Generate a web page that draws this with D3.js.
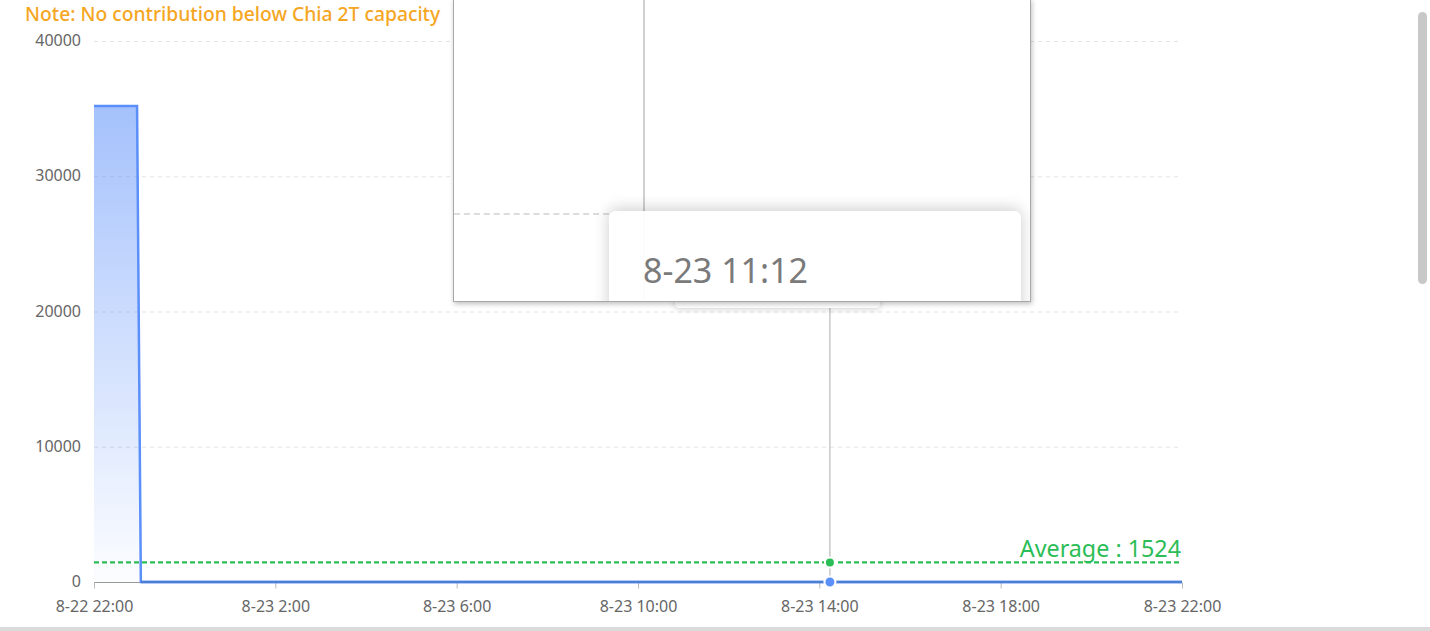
<!DOCTYPE html>
<html>
<head>
<meta charset="utf-8">
<script src="https://cdn.jsdelivr.net/npm/d3@7"></script>
<style>
  html, body { margin: 0; padding: 0; background: #fff; overflow: hidden; }
  body { width: 1430px; height: 631px; position: relative; font-family: "Noto Sans", sans-serif; }
  #chart { position: absolute; left: 0; top: 0; }
  .under-card { position: absolute; left: 675px; top: 200px; width: 205px; height: 108px; background: #fff;
                border-radius: 4px; box-shadow: 0 1px 6px rgba(0,0,0,0.18); }
  .overlay { position: absolute; left: 453px; top: -1px; width: 576px; height: 301px; background: #fff;
             border: 1px solid #a8a8a8; box-shadow: 1px 2px 5px rgba(0,0,0,0.25); overflow: hidden; }
  .overlay .vline { position: absolute; left: 189px; top: 0; width: 2px; height: 300px; background: #d0d0d0; }
  .overlay .hdash { position: absolute; left: 0; top: 213px; width: 165px; border-top: 2px dashed #dcdcdc; }
  .overlay .card { position: absolute; left: 155px; top: 211px; width: 412px; height: 120px; background: rgba(255,255,255,0.92);
                   border-radius: 7px; box-shadow: 0 -2px 16px rgba(0,0,0,0.2); }
  .overlay .card span { position: absolute; left: 34px; top: 36px; font-size: 34px; color: #7a7a7a; white-space: nowrap; }
  .vscroll { position: absolute; left: 1418px; top: 12px; width: 9px; height: 272px; background: #c8c8c8; border-radius: 5px; }
  .hscroll { position: absolute; left: 0; top: 627px; width: 1430px; height: 4px; background: #dadada; }
</style>
</head>
<body>
<svg id="chart" width="1430" height="631"></svg>
<div class="under-card"></div>
<div class="overlay">
  <div class="vline"></div>
  <div class="hdash"></div>
  <div class="card"><span id="tip-text"></span></div>
</div>
<div class="vscroll"></div>
<div class="hscroll"></div>
<script>
// series
const times = ["8-22 22:00", "8-22 22:57", "8-22 23:02", "8-23 14:14", "8-23 22:00"];
const values = [35200, 35200, 0, 0, 0];
const yTicks = [0, 10000, 20000, 30000, 40000];
const xTickLabels = ["8-22 22:00", "8-23 2:00", "8-23 6:00", "8-23 10:00", "8-23 14:00", "8-23 18:00", "8-23 22:00"];
const average = 1524;
const hoverTime = "8-23 14:14";
const tooltipLabel = "8-23 11:12";
const noteText = "Note: No contribution below Chia 2T capacity";

const parse = d3.timeParse("%Y-%m-%d %H:%M");
const toDate = s => {
    const [md, hm] = s.split(" ");
    const [m, d] = md.split("-");
    return parse(`2021-${m.padStart(2, "0")}-${d.padStart(2, "0")} ${hm}`);
};

const data = times.map((t, i) => ({ date: toDate(t), value: values[i] }));
const xTickDates = xTickLabels.map(toDate);

const svg = d3.select("#chart");

const x = d3.scaleTime()
    .domain([xTickDates[0], xTickDates[xTickDates.length - 1]])
    .range([94, 1182]);

const y = d3.scaleLinear()
    .domain([0, 40000])
    .range([582, 41]);

// note at the top
svg.append("text")
    .attr("x", 25)
    .attr("y", 21)
    .attr("font-size", "19.3px")
    .attr("font-weight", 500)
    .attr("fill", "#f5a623")
    .text(noteText);

// gradient for area
const defs = svg.append("defs");
const grad = defs.append("linearGradient")
    .attr("id", "areaGrad")
    .attr("gradientUnits", "userSpaceOnUse")
    .attr("x1", 0).attr("x2", 0)
    .attr("y1", y(values[0])).attr("y2", y(0));
grad.append("stop").attr("offset", "0%").attr("stop-color", "#5b8ff9").attr("stop-opacity", 0.55);
grad.append("stop").attr("offset", "100%").attr("stop-color", "#5b8ff9").attr("stop-opacity", 0.02);

// grid lines
svg.append("g")
    .selectAll("line")
    .data(yTicks.filter(d => d > 0))
    .enter()
    .append("line")
    .attr("x1", x.range()[0])
    .attr("x2", x.range()[1] - 2)
    .attr("y1", d => y(d) + 0.5)
    .attr("y2", d => y(d) + 0.5)
    .attr("stroke", "#e3e3e3")
    .attr("stroke-dasharray", "4,4");

// y axis labels
svg.append("g")
    .selectAll("text")
    .data(yTicks)
    .enter()
    .append("text")
    .attr("x", 81)
    .attr("y", d => y(d) + 5)
    .attr("text-anchor", "end")
    .attr("font-size", "16px")
    .attr("fill", "#666")
    .text(d => d);

// x axis
const xAxis = svg.append("g")
    .attr("transform", `translate(0, ${y(0) + 0.5})`)
    .call(d3.axisBottom(x)
        .tickValues(xTickDates)
        .tickSize(6)
        .tickFormat((d, i) => xTickLabels[i]));
xAxis.select(".domain").attr("stroke", "#999").attr("d", `M${x.range()[0]},0H${x.range()[1]}`);
xAxis.selectAll(".tick line").attr("stroke", "#bbb");
xAxis.selectAll(".tick text")
    .attr("fill", "#666")
    .attr("font-size", "16px")
    .attr("font-family", "Noto Sans")
    .attr("dy", "1.25em");

// area + line
const area = d3.area()
    .x(d => x(d.date))
    .y0(y(0))
    .y1(d => y(d.value));

const line = d3.line()
    .x(d => x(d.date))
    .y(d => y(d.value));

svg.append("path")
    .datum(data)
    .attr("d", area)
    .attr("fill", "url(#areaGrad)");

// crosshair
const hx = x(toDate(hoverTime));
svg.append("line")
    .attr("x1", hx).attr("x2", hx)
    .attr("y1", 300).attr("y2", y(0))
    .attr("stroke", "#c8c8c8")
    .attr("stroke-width", 1.5);

svg.append("path")
    .datum(data)
    .attr("d", line)
    .attr("fill", "none")
    .attr("stroke", "#5b8ff9")
    .attr("stroke-width", 2.5);

// bottom segment looks darker where it sits on the axis
svg.append("line")
    .attr("x1", x(data[2].date))
    .attr("x2", x.range()[1])
    .attr("y1", y(0))
    .attr("y2", y(0))
    .attr("stroke", "#4b7fd6")
    .attr("stroke-width", 2.5);

// average line
svg.append("line")
    .attr("x1", x.range()[0])
    .attr("x2", x.range()[1])
    .attr("y1", y(average) + 1)
    .attr("y2", y(average) + 1)
    .attr("stroke", "#2bbd57")
    .attr("stroke-width", 2.4)
    .attr("stroke-dasharray", "5,3");

svg.append("text")
    .attr("x", x.range()[1] - 1)
    .attr("y", y(average) - 4)
    .attr("text-anchor", "end")
    .attr("font-size", "23.3px")
    .attr("fill", "#2bbd57")
    .text(`Average : ${average}`);

// hover markers
svg.append("circle")
    .attr("cx", hx).attr("cy", y(average) + 1)
    .attr("r", 5)
    .attr("fill", "#2bbd57")
    .attr("stroke", "#fff")
    .attr("stroke-width", 2);

svg.append("circle")
    .attr("cx", hx).attr("cy", y(0))
    .attr("r", 5.5)
    .attr("fill", "#5b8ff9")
    .attr("stroke", "#fff")
    .attr("stroke-width", 2);

document.getElementById("tip-text").textContent = tooltipLabel;
</script>
</body>
</html>
